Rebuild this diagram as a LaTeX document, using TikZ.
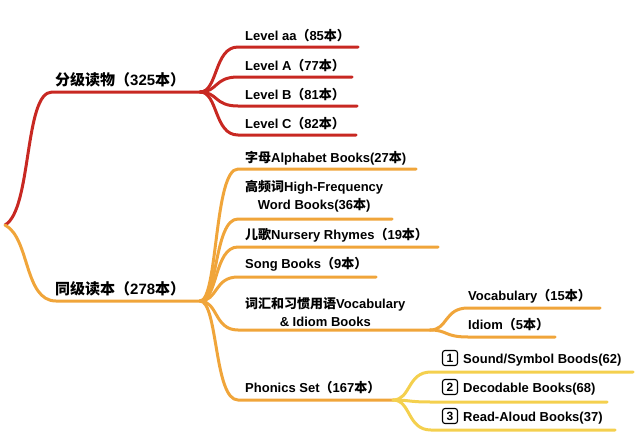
\documentclass[tikz,border=0pt]{standalone}
\usepackage{fontspec}
\setmainfont{Liberation Sans}
\newfontfamily\cjkfont{Noto Sans CJK SC Bold}
\newcommand\zh[1]{{\cjkfont #1}}
\usetikzlibrary{calc}
\definecolor{mmred}{RGB}{200,40,34}
\definecolor{mmorange}{RGB}{240,165,58}
\definecolor{mmyellow}{RGB}{244,208,78}
\newcommand\mmbranch[3]{%
  \draw[#3] (#1) .. controls ($(#1)+(18,0)$) and ($(#1 |- #2)+(14,0)$) .. ($(#1 |- #2)+(38,0)$) -- (#2);}
\begin{document}
\begin{tikzpicture}[x=1pt,y=-1pt,
  lbl/.style={font=\bfseries\fontsize{13}{18}\selectfont, inner sep=0pt, anchor=base west},
  lbltop/.style={font=\bfseries\fontsize{15}{18}\selectfont, inner sep=0pt, anchor=base west},
  lblc/.style={font=\bfseries\fontsize{13}{18}\selectfont, inner sep=0pt, anchor=west, align=center},
  redln/.style={draw=mmred, line width=3pt, line cap=round},
  orgln/.style={draw=mmorange, line width=3pt, line cap=round},
  yelln/.style={draw=mmyellow, line width=3pt, line cap=round},
  numbox/.style={draw, line width=1.1pt, rounded corners=2.5pt, minimum size=15pt, inner sep=0pt, font=\bfseries\fontsize{12}{12}\selectfont}]
\useasboundingbox (0,0) rectangle (640,442);
% fan points and line ends
\coordinate (root) at (5,225);
\coordinate (rfan) at (200,92);
\coordinate (ofan) at (200,301);
\coordinate (vfan) at (430,330);
\coordinate (pfan) at (393,400);
\coordinate (eaa) at (358,47);
\coordinate (ea) at (352,77);
\coordinate (eb) at (357,106);
\coordinate (ec) at (356,135);
\coordinate (ealpha) at (416,169);
\coordinate (ehf) at (392,219);
\coordinate (enr) at (438,247);
\coordinate (esong) at (376,277);
\coordinate (evocab) at (600,308);
\coordinate (eidiom) at (555,337);
\coordinate (esound) at (633,372);
\coordinate (edec) at (607,402);
\coordinate (eread) at (615,430);
% trunks
\draw[redln] (root) .. controls (32,210) and (24,92) .. (52,92) -- (rfan);
\draw[orgln] (root) .. controls (30,238) and (24,301) .. (56,301) -- (ofan);
% red branches
\mmbranch{rfan}{eaa}{redln}
\mmbranch{rfan}{ea}{redln}
\mmbranch{rfan}{eb}{redln}
\mmbranch{rfan}{ec}{redln}
% orange branches
\mmbranch{ofan}{ealpha}{orgln}
\mmbranch{ofan}{ehf}{orgln}
\mmbranch{ofan}{enr}{orgln}
\mmbranch{ofan}{esong}{orgln}
\mmbranch{ofan}{vfan}{orgln}
\mmbranch{ofan}{pfan}{orgln}
\mmbranch{vfan}{evocab}{orgln}
\mmbranch{vfan}{eidiom}{orgln}
% yellow branches
\mmbranch{pfan}{esound}{yelln}
\mmbranch{pfan}{edec}{yelln}
\mmbranch{pfan}{eread}{yelln}
% labels
\node[lbltop] (tred) at (55,85) {\zh{分级读物（}325\zh{本）}};
\node[lbltop] (torg) at (55,294) {\zh{同级读本（}278\zh{本）}};
\node[lbl] (taa) at (245,40) {Level aa\zh{（}85\zh{本）}};
\node[lbl] (ta) at (245,70) {Level A\zh{（}77\zh{本）}};
\node[lbl] (tb) at (245,99) {Level B\zh{（}81\zh{本）}};
\node[lbl] (tc) at (245,128) {Level C\zh{（}82\zh{本）}};
\node[lbl] (talpha) at (245,162) {\zh{字母}Alphabet Books(27\zh{本})};
\node[lblc] (thf) at (245,196) {\zh{高频词}High-Frequency\\Word Books(36\zh{本})};
\node[lbl] (tnr) at (245,239) {\zh{儿歌}Nursery Rhymes\zh{（}19\zh{本）}};
\node[lbl] (tsong) at (245,268) {Song Books\zh{（}9\zh{本）}};
\node[lblc] (tvi) at (245,312) {\zh{词汇和习惯用语}Vocabulary\\\& Idiom Books};
\node[lbl] (tvocab) at (468,300) {Vocabulary\zh{（}15\zh{本）}};
\node[lbl] (tidiom) at (468,329) {Idiom\zh{（}5\zh{本）}};
\node[lbl] (tph) at (245,392) {Phonics Set\zh{（}167\zh{本）}};
\node[numbox] (n1) at (450,358) {1};
\node[numbox] (n2) at (450,387) {2};
\node[numbox] (n3) at (450,416) {3};
\node[lbl] (tsound) at (463,363) {Sound/Symbol Boods(62)};
\node[lbl] (tdec) at (463,392) {Decodable Books(68)};
\node[lbl] (tread) at (463,421) {Read-Aloud Books(37)};
\end{tikzpicture}
\end{document}
